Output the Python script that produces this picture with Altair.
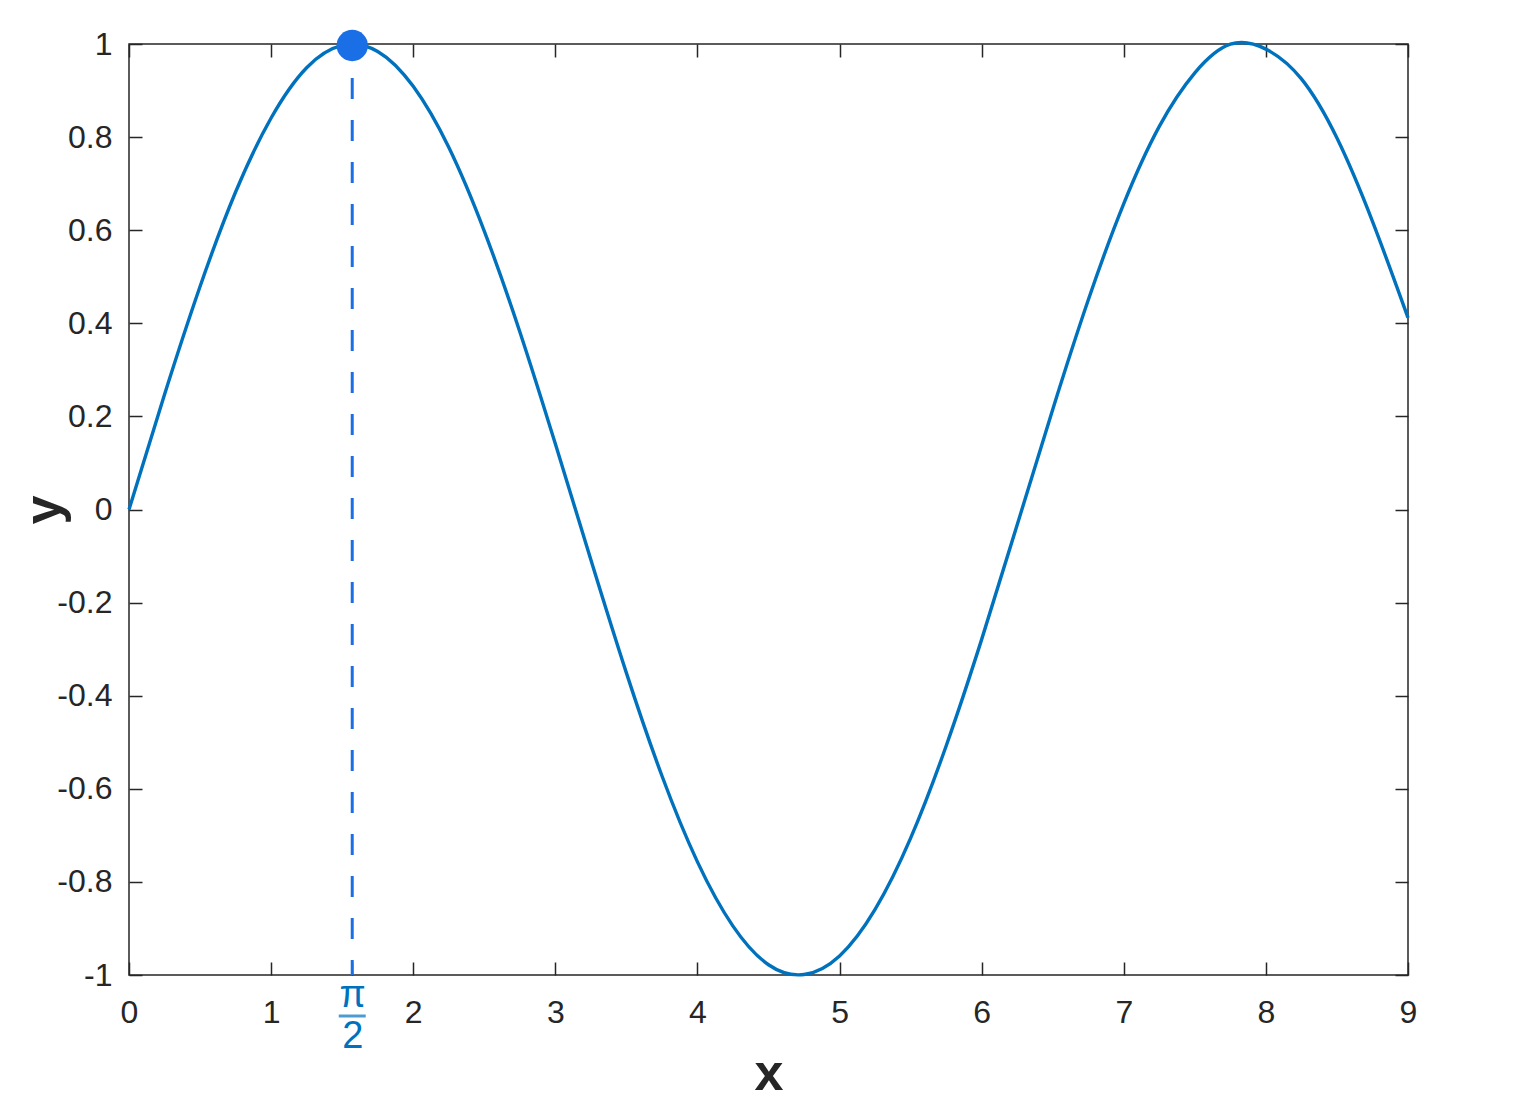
import altair as alt
import pandas as pd

x_vals = [0.0, 0.25, 0.5, 0.75, 1.0, 1.25, 1.5, 1.75, 2.0, 2.25, 2.5, 2.75,
          3.0, 3.25, 3.5, 3.75, 4.0, 4.25, 4.5, 4.75, 5.0, 5.25, 5.5, 5.75,
          6.0, 6.25, 6.5, 6.75, 7.0, 7.25, 7.5, 7.75, 8.0, 8.25, 8.5, 8.75, 9.0]
y_vals = [0.0, 0.247, 0.479, 0.682, 0.841, 0.949, 0.997, 0.984, 0.909, 0.778, 0.598, 0.382,
          0.141, -0.108, -0.351, -0.572, -0.757, -0.895, -0.978, -0.999, -0.959, -0.859, -0.706, -0.508,
          -0.279, -0.033, 0.215, 0.450, 0.657, 0.823, 0.938, 0.9995, 0.989, 0.925, 0.798, 0.619, 0.412]

# highlighted maximum at pi/2
peak_x = [1.5708]
peak_y = [1.0]
floor_y = [-1.0]

x_ticks = [0, 1, 2, 3, 4, 5, 6, 7, 8, 9]
y_ticks = [-1.0, -0.8, -0.6, -0.4, -0.2, 0.0, 0.2, 0.4, 0.6, 0.8, 1.0]

line_df = pd.DataFrame({"x": x_vals, "y": y_vals})
peak_df = pd.DataFrame({"x": peak_x, "y": peak_y, "y2": floor_y})

INK = "#262626"
LINE = "#0072BD"
MARK = "#1A6FE6"
FONT = "Liberation Sans"
W, H = 1279, 931
TICK = 13
LBL = 32

xscale = alt.Scale(domain=[0, 9], nice=False, zero=False)
yscale = alt.Scale(domain=[-1, 1], nice=False, zero=False)

is_pi = "datum.value > 1.5 && datum.value < 1.6"

x_bottom = alt.Axis(
    orient="bottom", values=x_ticks + peak_x, offset=-TICK, tickSize=TICK,
    tickColor=INK, tickWidth=1.5, domain=False, grid=False,
    labelExpr=f"{is_pi} ? ['π', '2'] : toString(datum.value)",
    labelColor={"condition": {"test": is_pi, "value": LINE}, "value": INK},
    labelFontSize={"condition": {"test": is_pi, "value": 38}, "value": LBL},
    labelPadding={"condition": {"test": is_pi, "value": 20}, "value": 37},
    labelBaseline="middle", labelLineHeight=41,
    labelFont=FONT, labelFlush=False, labelOverlap=False,
    title="x", titleFontSize=52, titleFontWeight="bold", titleFont=FONT,
    titleColor=INK, titleBaseline="alphabetic", titleY=127,
)
y_left = alt.Axis(
    orient="left", values=y_ticks, offset=-TICK, tickSize=TICK,
    tickColor=INK, tickWidth=1.5, domain=False, grid=False,
    labelExpr="toString(round(datum.value*10)/10)",
    labelColor=INK, labelPadding=17, labelFontSize=LBL, labelFont=FONT,
    labelFlush=False, labelOverlap=False,
    title="y", titleFontSize=52, titleFontWeight="bold", titleFont=FONT,
    titleColor=INK, titleBaseline="alphabetic", titleAngle=270, titleX=-83,
)
x_top = alt.Axis(
    orient="top", values=x_ticks, offset=-TICK, tickSize=TICK,
    tickColor=INK, tickWidth=1.5, domain=False, grid=False, labels=False, title=None,
)
y_right = alt.Axis(
    orient="right", values=y_ticks, offset=-TICK, tickSize=TICK,
    tickColor=INK, tickWidth=1.5, domain=False, grid=False, labels=False, title=None,
)

curve = alt.Chart(line_df).mark_line(
    color=LINE, strokeWidth=3.4, interpolate="natural"
).encode(
    x=alt.X("x:Q", scale=xscale, axis=x_bottom),
    y=alt.Y("y:Q", scale=yscale, axis=y_left),
)

drop = alt.Chart(peak_df).mark_rule(
    color=MARK, strokeWidth=3, strokeDash=[21, 21], strokeDashOffset=8
).encode(
    x=alt.X("x:Q", scale=xscale, axis=None),
    y=alt.Y("y:Q", scale=yscale, axis=None),
    y2="y2:Q",
)

# fraction bar of the pi/2 tick label, placed under the axis at the peak's x
frac_bar = alt.Chart(peak_df).mark_tick(
    color=LINE, orient="horizontal", size=27, thickness=3
).encode(
    x=alt.X("x:Q", scale=xscale, axis=None),
    y=alt.value(H + 41),
)

peak = alt.Chart(peak_df).mark_circle(
    color=MARK, opacity=1, size=980, yOffset=1.5
).encode(
    x=alt.X("x:Q", scale=xscale, axis=x_top),
    y=alt.Y("y:Q", scale=yscale, axis=y_right),
)

chart = alt.layer(curve, drop, frac_bar, peak).resolve_axis(
    x="independent", y="independent"
).properties(
    width=W, height=H,
    padding={"left": 121, "top": 36, "right": 100, "bottom": 140},
    autosize=alt.AutoSizeParams(type="none"),
    background="white",
).configure_view(stroke=INK, strokeWidth=1.5)

chart.save("out.html", embed_options={"renderer": "svg", "actions": False})
